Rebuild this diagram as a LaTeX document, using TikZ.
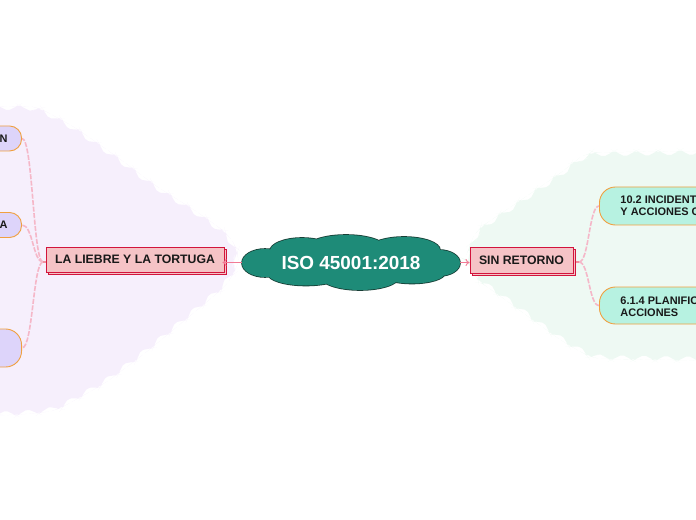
\documentclass[tikz,border=0pt]{standalone}
\usepackage{fontspec}
\setmainfont{Liberation Sans}
\usetikzlibrary{shadows,arrows.meta,decorations.pathmorphing}
\definecolor{lavblob}{HTML}{F6EFFC}
\definecolor{mintblob}{HTML}{EEF9F3}
\definecolor{cloudfill}{HTML}{1E8B78}
\definecolor{cloudline}{HTML}{173F36}
\definecolor{mainfill}{HTML}{F5C3C6}
\definecolor{mainline}{HTML}{D2143C}
\definecolor{lavchild}{HTML}{DDD4FA}
\definecolor{mintchild}{HTML}{B7F2E1}
\definecolor{childline}{HTML}{F0A040}
\definecolor{linkcol}{HTML}{F5B7C8}
\definecolor{stubcol}{HTML}{F0909F}
\definecolor{arrowcol}{HTML}{F27A95}
\newcommand{\cloudparts}{%
  (265,263) ellipse [x radius=23, y radius=14]
  (302,251) ellipse [x radius=32, y radius=13]
  (346,248.5) ellipse [x radius=40, y radius=13.5]
  (404,250) ellipse [x radius=36, y radius=13]
  (439,263) ellipse [x radius=21, y radius=13]
  (306,274) ellipse [x radius=38, y radius=11.5]
  (360,277) ellipse [x radius=39, y radius=13]
  (412,273) ellipse [x radius=33, y radius=10.5]
  (351,263) ellipse [x radius=92, y radius=18]}
\begin{document}
\begin{tikzpicture}[x=1bp,y=-1bp,
  blob/.style={rounded corners=10bp,decorate,decoration={snake,segment length=22bp,amplitude=1.8bp}},
  cloudtext/.style={rectangle, minimum width=218bp, minimum height=55bp, inner sep=0pt,
    text=white, font=\fontsize{19}{22}\selectfont\bfseries},
  mainbox/.style={draw=mainline, fill=mainfill, line width=0.9bp, inner sep=0pt,
    minimum height=25bp, text=black!90,
    font=\fontsize{12.3}{14}\selectfont\bfseries,
    copy shadow={shadow xshift=2.5bp, shadow yshift=-2.5bp}},
  lchild/.style={draw=childline, fill=lavchild, line width=0.9bp, rounded corners=12bp,
    text width=70bp, align=right, inner xsep=14bp, inner ysep=0pt, anchor=east,
    text=black!90, font=\fontsize{11}{12.5}\selectfont\bfseries},
  rchild/.style={draw=childline, fill=mintchild, line width=0.9bp, rounded corners=16bp,
    align=left, inner xsep=21bp, inner ysep=0pt, minimum height=38bp, anchor=west,
    text=black!90, font=\fontsize{11}{12.5}\selectfont\bfseries},
  link/.style={draw=linkcol, line width=1.6bp, dash pattern=on 5bp off 1.5bp},
  linkstub/.style={draw=stubcol, line width=1.4bp},
  arr/.style={draw=arrowcol, line width=0.9bp, -{To[length=4bp,width=7bp]}}
]
\useasboundingbox (0,0) rectangle (696,520);
\clip (0,0) rectangle (696,520);

% background blobs
\fill[lavblob, blob] (-20,108) -- (30,108) -- (67,128) -- (110,158) -- (150,188)
  -- (190,213) -- (222,236) -- (234,258) -- (224,282) -- (187,313) -- (140,352)
  -- (100,382) -- (50,410) -- (10,414) -- (-20,414) -- cycle;
\fill[mintblob, blob] (466,262) -- (474,238) -- (510,214) -- (560,180) -- (585,160)
  -- (720,158) -- (720,366) -- (590,364) -- (560,347) -- (527,323) -- (493,298)
  -- (472,284) -- cycle;

% central cloud: outlines first, then fill on top to keep only the outer border
\draw[cloudline, line width=1.6bp] \cloudparts;
\fill[cloudfill] \cloudparts;
\node[cloudtext] (iso) at (351,262.5) {ISO 45001:2018};

% main topics
\node[mainbox, minimum width=178bp] (liebre) at (135,259.5) {LA LIEBRE Y LA TORTUGA};
\node[mainbox, minimum width=103bp, minimum height=26bp] (sinret) at (521.5,260) {SIN RETORNO};

% connectors (drawn under children)
\coordinate (lj) at (43,262);
\coordinate (rj) at (579,262);
\draw[link] (lj) .. controls (33,262) and (33,138.5) .. (22,138.5);
\draw[link] (lj) .. controls (33,262) and (33,225) .. (22,225);
\draw[link] (lj) .. controls (33,262) and (33,348) .. (22,348);
\draw[link] (rj) .. controls (589,262) and (589,206) .. (599,206);
\draw[link] (rj) .. controls (589,262) and (589,305.5) .. (599,305.5);
\draw[linkstub] (liebre.west |- lj) -- (lj);
\draw[linkstub] (sinret.east |- rj) ++(2.5,0) -- (rj);

% left children
\node[lchild, minimum height=25bp] (l1) at (22,138.5) {N};
\node[lchild, minimum height=25bp] (l2) at (22,225) {A};
\node[lchild, minimum height=38bp, rounded corners=16bp] (l3) at (22,348) {};

% right children
\node[rchild] (r1) at (599,206) {10.2 INCIDENTES, NO CONFORMIDADES\\Y ACCIONES CORRECTIVAS};
\node[rchild, minimum height=37bp] (r2) at (599,305.5) {6.1.4 PLANIFICACIÓN DE\\ACCIONES};

% arrows from centre
\draw[arr, shorten >=-2bp] (iso.west) -- (liebre.east |- iso.west);
\draw[arr] (iso.east) -- (sinret.west |- iso.east);
\end{tikzpicture}
\end{document}
